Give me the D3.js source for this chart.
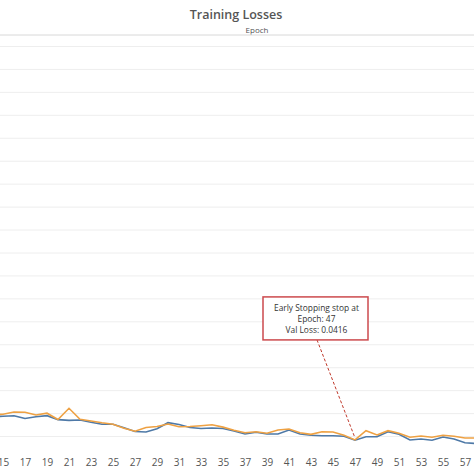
<!DOCTYPE html>
<html>
<head>
<meta charset="utf-8">
<script src="https://cdn.jsdelivr.net/npm/d3@7"></script>
<style>
  body { margin: 0; background: #fff; }
  svg { display: block; font-family: "Open Sans", "Noto Sans", sans-serif; }
</style>
</head>
<body>
<svg id="chart" width="474" height="474"></svg>
<script>
// epochs visible in the crop (the chart is cut off on both sides)
var epochs = [14, 15, 16, 17, 18, 19, 20, 21, 22, 23, 24, 25, 26, 27, 28, 29, 30, 31, 32, 33, 34, 35, 36,
              37, 38, 39, 40, 41, 42, 43, 44, 45, 46, 47, 48, 49, 50, 51, 52, 53, 54, 55, 56, 57, 58];

// blue line
var trainLoss = [0.0926, 0.0931, 0.0944, 0.0883, 0.0920, 0.0944, 0.0857, 0.0841, 0.0850, 0.0800, 0.0756, 0.0756,
                 0.0682, 0.0600, 0.0588, 0.0658, 0.0791, 0.0750, 0.0687, 0.0665, 0.0676, 0.0665, 0.0610,
                 0.0545, 0.0582, 0.0545, 0.0545, 0.0632, 0.0545, 0.0517, 0.0508, 0.0508, 0.0495, 0.0410,
                 0.0486, 0.0486, 0.0595, 0.0538, 0.0414, 0.0436, 0.0408, 0.0480, 0.0436, 0.0355, 0.0338];

// orange line
var valLoss = [0.0970, 0.0974, 0.1024, 0.1018, 0.0959, 0.0998, 0.0861, 0.1105, 0.0865, 0.0828, 0.0789, 0.0756,
               0.0669, 0.0604, 0.0687, 0.0708, 0.0763, 0.0704, 0.0708, 0.0726, 0.0745, 0.0695, 0.0626,
               0.0573, 0.0595, 0.0560, 0.0632, 0.0654, 0.0573, 0.0538, 0.0595, 0.0588, 0.0517, 0.0416,
               0.0617, 0.0523, 0.0617, 0.0560, 0.0473, 0.0501, 0.0473, 0.0517, 0.0495, 0.0458, 0.0458];

var xTicks = [15, 17, 19, 21, 23, 25, 27, 29, 31, 33, 35, 37, 39, 41, 43, 45, 47, 49, 51, 53, 55, 57];
var yGrid = [0.05, 0.10, 0.15, 0.20, 0.25, 0.30, 0.35, 0.40, 0.45, 0.50, 0.55, 0.60, 0.65, 0.70, 0.75, 0.80, 0.85, 0.90];

var stopEpoch = 47;
var stopLoss = 0.0416;
var noteLines = ["Early Stopping stop at", "Epoch: " + stopEpoch, "Val Loss: " + stopLoss];

var width = 474, height = 474;
var plotTop = 35, plotBottom = 450;

var svg = d3.select("#chart");

var x = d3.scaleLinear().domain([15, 57]).range([3, 465]);
var y = d3.scaleLinear().domain([0, 0.9]).range([459, 46]);

// title and axis title
svg.append("text")
    .attr("x", 236).attr("y", 19)
    .attr("text-anchor", "middle")
    .style("font-size", "12.5px")
    .style("font-weight", "600")
    .style("fill", "#555")
    .text("Training Losses");

svg.append("text")
    .attr("x", 257).attr("y", 33)
    .attr("text-anchor", "middle")
    .style("font-size", "8px")
    .style("fill", "#555")
    .text("Epoch");

// gridlines
var grid = svg.append("g")
    .call(d3.axisLeft(y).tickValues(yGrid).tickSize(-width).tickFormat(""));
grid.select(".domain").remove();
grid.selectAll("line").attr("stroke", "#eeeeee");

// top border line
svg.append("line")
    .attr("x1", 0).attr("x2", width)
    .attr("y1", plotTop).attr("y2", plotTop)
    .attr("stroke", "#d8d8d8");

// clip the lines to the plot
svg.append("clipPath").attr("id", "plotClip")
  .append("rect")
    .attr("x", 0).attr("y", plotTop)
    .attr("width", width).attr("height", plotBottom - plotTop);

var plot = svg.append("g").attr("clip-path", "url(#plotClip)");

var line = d3.line()
    .x(function(d, i) { return x(epochs[i]); })
    .y(function(d) { return y(d); });

plot.append("path")
    .datum(trainLoss)
    .attr("fill", "none")
    .attr("stroke", "#4e79a7")
    .attr("stroke-width", 1.6)
    .attr("d", line);

plot.append("path")
    .datum(valLoss)
    .attr("fill", "none")
    .attr("stroke", "#eea143")
    .attr("stroke-width", 1.6)
    .attr("d", line);

// x axis labels
var xAxis = svg.append("g")
    .attr("transform", "translate(0," + 455 + ")")
    .call(d3.axisBottom(x).tickValues(xTicks).tickSize(0).tickPadding(4));
xAxis.select(".domain").remove();
xAxis.selectAll("text")
    .style("font-size", "10px")
    .style("fill", "#555")
    .style("font-family", "'Open Sans', 'Noto Sans', sans-serif");

// annotation
var px = x(stopEpoch), py = y(stopLoss);
var boxX = px - 92, boxY = py - 143, boxW = 105, boxH = 43;

svg.append("line")
    .attr("x1", px - 38).attr("y1", boxY + boxH)
    .attr("x2", px).attr("y2", py - 2)
    .attr("stroke", "#c0392b")
    .attr("stroke-width", 1)
    .attr("stroke-dasharray", "3,2");

svg.append("rect")
    .attr("x", boxX).attr("y", boxY)
    .attr("width", boxW).attr("height", boxH)
    .attr("fill", "#fff")
    .attr("stroke", "#cc4a4e")
    .attr("stroke-width", 1.5);

svg.append("g").selectAll("text")
    .data(noteLines)
    .enter().append("text")
    .attr("x", boxX + boxW / 2 + 1)
    .attr("y", function(d, i) { return boxY + 14.5 + i * 10.8; })
    .attr("text-anchor", "middle")
    .style("font-size", "8.4px")
    .style("fill", "#333")
    .text(function(d) { return d; });
</script>
</body>
</html>
